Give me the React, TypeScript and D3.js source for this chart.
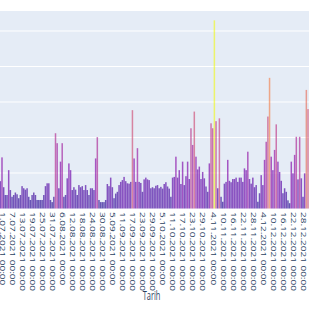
import React from 'react';
import * as d3 from 'd3';

const startDate = '2021-06-30';
const values: number[] = [
  7.7,
  14.4, 6.0, 3.8, 3.8, 10.8, 5.2, 3.3, 3.8, 4.5, 4.0,
  2.9, 3.8, 6.3, 5.7, 5.3, 5.7, 3.3, 2.4, 3.8, 4.5,
  3.8, 2.4, 2.4, 2.4, 2.4, 3.8, 6.3, 7.1, 7.1, 2.4,
  1.8, 3.3, 21.2, 18.4, 5.7, 13.2, 18.4, 3.3, 3.8, 8.5,
  12.7, 10.8, 5.2, 6.0, 5.3, 3.8, 6.6, 6.0, 6.3, 5.2,
  6.6, 5.2, 3.8, 5.7, 5.7, 5.2, 14.1, 20.1, 2.4, 1.8,
  1.8, 1.8, 2.4, 6.9, 6.3, 8.7, 6.0, 2.9, 4.2, 4.7,
  6.6, 7.5, 8.0, 8.9, 7.7, 7.1, 7.0, 7.5, 27.7, 14.1,
  7.5, 17.0, 7.5, 7.2, 4.7, 8.2, 8.7, 8.2, 8.0, 5.7,
  6.0, 5.7, 6.4, 6.6, 5.7, 6.1, 5.6, 6.9, 7.4, 6.2,
  5.6, 3.3, 8.7, 8.9, 14.6, 8.7, 10.8, 6.9, 13.2, 6.6,
  9.1, 13.2, 8.3, 22.6, 17.9, 27.3, 14.6, 11.0, 11.8, 8.3,
  10.3, 8.5, 6.2, 4.7, 12.7, 24.0, 22.6, 53.0, 24.6, 5.7,
  25.4, 3.3, 1.9, 7.0, 7.5, 13.7, 7.8, 7.4, 8.3, 8.3,
  8.7, 7.5, 8.7, 8.7, 7.5, 11.3, 10.8, 16.0, 8.3, 7.0,
  8.7, 6.0, 6.6, 1.9, 4.3, 9.4, 6.6, 13.7, 18.8, 25.9,
  36.8, 14.6, 10.8, 16.5, 23.7, 13.2, 10.3, 7.8, 4.3, 5.7,
  4.7, 2.3, 1.5, 13.2, 9.9, 15.1, 20.2, 8.2, 20.2, 8.5,
  3.3, 9.9, 33.4, 28.0,
];

const tickLabels: string[] = [
  '1.07.2021 00:00', '7.07.2021 00:00', '13.07.2021 00:00', '19.07.2021 00:00',
  '25.07.2021 00:00', '31.07.2021 00:00', '6.08.2021 00:00', '12.08.2021 00:00',
  '18.08.2021 00:00', '24.08.2021 00:00', '30.08.2021 00:00', '5.09.2021 00:00',
  '11.09.2021 00:00', '17.09.2021 00:00', '23.09.2021 00:00', '29.09.2021 00:00',
  '5.10.2021 00:00', '11.10.2021 00:00', '17.10.2021 00:00', '23.10.2021 00:00',
  '29.10.2021 00:00', '4.11.2021 00:00', '10.11.2021 00:00', '16.11.2021 00:00',
  '22.11.2021 00:00', '28.11.2021 00:00', '4.12.2021 00:00', '10.12.2021 00:00',
  '16.12.2021 00:00', '22.12.2021 00:00', '28.12.2021 00:00',
];

const gridValues = [10, 20, 30, 40, 50];

const W = 309;
const H = 309;
const plotTop = 11;
const plotBottom = 208.5;
const squeeze = 0.62;

export default function App() {
  const parseTick = d3.timeParse('%d.%m.%Y %H:%M');
  const start = d3.timeParse('%Y-%m-%d')(startDate) as Date;
  const data = values.map((v, i) => ({ date: d3.timeDay.offset(start, i), v }));
  const tickDates = tickLabels.map((t) => parseTick(t) as Date);

  const x = d3
    .scaleTime()
    .domain([tickDates[0], tickDates[tickDates.length - 1]])
    .range([2, 303]);
  const y = d3.scaleLinear().domain([0, 55.63]).range([plotBottom, plotTop]);
  const vmax = d3.max(values) as number;
  const color = (v: number) => d3.interpolatePlasma(v / vmax);
  const dayW = x(d3.timeDay.offset(tickDates[0], 1)) - x(tickDates[0]);
  const bw = dayW * 0.9;

  return (
    <svg
      width={W}
      height={H}
      style={{ position: 'absolute', left: 0, top: 0, background: '#fff' }}
    >
      <rect x={0} y={plotTop} width={W} height={plotBottom - plotTop} fill="#E5ECF6" />
      {gridValues.map((g) => (
        <line key={g} x1={0} x2={W} y1={y(g)} y2={y(g)} stroke="#fff" strokeWidth={1} />
      ))}
      {data.map((d, i) => (
        <rect
          key={i}
          x={x(d.date) - bw / 2}
          width={bw}
          y={y(d.v)}
          height={y(0) - y(d.v)}
          fill={color(d.v)}
          fillOpacity={0.65}
        />
      ))}
      {tickDates.map((t, i) => (
        <text
          key={i}
          transform={`translate(${x(t)},${plotBottom + 3.5}) scale(${squeeze},1) rotate(90)`}
          dy="0.35em"
          fontFamily="'Open Sans', sans-serif"
          fontSize={10}
          fill="#2a3f5f"
        >
          {tickLabels[i]}
        </text>
      ))}
      <text
        transform={`translate(151.5,300) scale(${squeeze},1)`}
        textAnchor="middle"
        fontFamily="'Open Sans', sans-serif"
        fontSize={12}
        fill="#2a3f5f"
      >
        Tarih
      </text>
    </svg>
  );
}
